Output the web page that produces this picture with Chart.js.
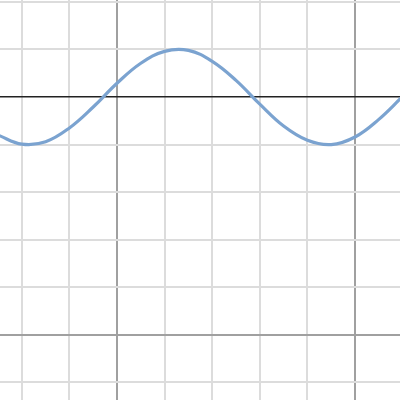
<!DOCTYPE html>
<html><head><meta charset="utf-8">
<script src="https://cdn.jsdelivr.net/npm/chart.js@4"></script>
<style>html,body{margin:0;padding:0;background:#fff}</style>
</head><body>
<canvas id="c" width="400" height="400"></canvas>
<script>
const xValues = [-2.5,-2,-1.5,-1,-0.5,0,0.5,1,1.5,2,2.5,3,3.5,4,4.5,5,5.5,6];
const yValues = [-0.80,-0.99,-0.94,-0.65,-0.21,0.29,0.71,0.96,0.98,0.75,0.35,-0.15,-0.61,-0.91,-1.0,-0.84,-0.47,0.01];
const xRange = [-2.458, 5.945];
const yRange = [-6.37, 2.04];
const xTicks = [-2,-1,0,1,2,3,4,5];
const yTicks = [-6,-5,-4,-3,-2,-1,0,1,2];

function gridColor(isY){
  return ctx => {
    const v = ctx.tick ? ctx.tick.value : 0;
    if (isY && Math.abs(v) < 1e-9) return '#222';
    if (Math.abs(v % 5) < 1e-9) return '#a0a0a0';
    return '#dcdcdc';
  };
}
new Chart(document.getElementById('c'), {
  type: 'line',
  data: { datasets: [{
    data: xValues.map((x,i)=>({x, y: yValues[i]})),
    borderColor: '#7ba3d0', borderWidth: 3.2, pointRadius: 0,
    tension: 0.4, fill: false
  }]},
  options: {
    responsive: false, animation: false,
    layout: { padding: 0 },
    plugins: { legend: { display: false }, tooltip: { enabled: false } },
    scales: {
      x: { type: 'linear', min: xRange[0], max: xRange[1],
        afterBuildTicks: s => { s.ticks = xTicks.map(v => ({value: v})); },
        ticks: { display: false, autoSkip: false },
        border: { display: false },
        grid: { drawTicks: false, lineWidth: 2, color: gridColor(false) } },
      y: { type: 'linear', min: yRange[0], max: yRange[1],
        afterBuildTicks: s => { s.ticks = yTicks.map(v => ({value: v})); },
        ticks: { display: false, autoSkip: false },
        border: { display: false },
        grid: { drawTicks: false, lineWidth: ctx => (ctx.tick && ctx.tick.value === 0) ? 1.5 : 2, color: gridColor(true) } }
    }
  }
});
</script>
</body></html>
